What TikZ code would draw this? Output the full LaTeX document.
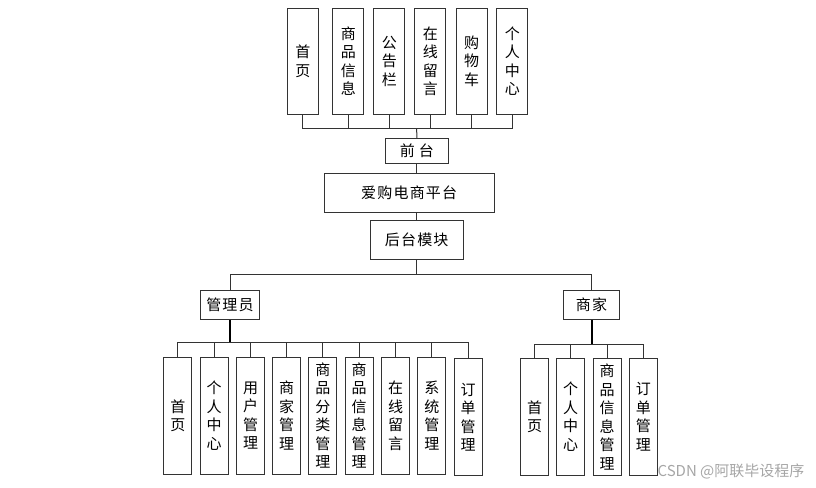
\documentclass[tikz,border=0pt]{standalone}
\usepackage{fontspec}
\newfontfamily\cjk{Noto Sans CJK SC}
\newfontfamily\cjkls{Noto Sans CJK SC}[LetterSpace=8]
\begin{document}
\begin{tikzpicture}[x=1pt,y=-1pt,
  box/.style={draw=black!80, line width=1pt, fill=white, inner sep=0pt, align=center,
    font=\cjk\fontsize{15}{18.5}\selectfont},
  hbox/.style={box, font=\cjkls\fontsize{15}{18.5}\selectfont},
  vbox/.style={box, minimum width=31pt, minimum height=105.7pt},
  lbox/.style={box, minimum width=28pt, minimum height=117pt},
  conn/.style={draw=black!80, line width=1pt},
  thickconn/.style={draw=black, line width=2pt}]
\useasboundingbox (0,0) rectangle (816,487);
% top row
\node[vbox] (t1) at (302.8,61.2) {首\\页};
\node[vbox] (t2) at (348.3,61.2) {商\\品\\信\\息};
\node[vbox] (t3) at (389.3,61.2) {公\\告\\栏};
\node[vbox] (t4) at (430.3,61.2) {在\\线\\留\\言};
\node[vbox] (t5) at (471.6,61.2) {购\\物\\车};
\node[vbox] (t6) at (512.3,61.2) {个\\人\\中\\心};
\node[hbox, minimum width=63pt, minimum height=25pt] (qt) at (416.8,150.8) {前\hspace{4pt}台};
\node[hbox, minimum width=169.7pt, minimum height=39pt] (pt) at (409.2,192.8) {爱购电商平台};
\node[hbox, minimum width=93.3pt, minimum height=38.6pt] (ht) at (416.7,240) {后台模块};
\node[hbox, minimum width=58.6pt, minimum height=28.6pt] (gly) at (230,305) {管理员};
\node[hbox, minimum width=56.4pt, minimum height=29pt] (sj) at (591.5,305.2) {商家};
% admin children
\node[lbox] (a1) at (177.9,415.7) {首\\页};
\node[lbox] (a2) at (214,415.7) {个\\人\\中\\心};
\node[lbox] (a3) at (250.5,415.7) {用\\户\\管\\理};
\node[lbox] (a4) at (286.7,415.7) {商\\家\\管\\理};
\node[lbox] (a5) at (322.9,415.7) {商\\品\\分\\类\\管\\理};
\node[lbox] (a6) at (359.2,415.7) {商\\品\\信\\息\\管\\理};
\node[lbox] (a7) at (395.5,415.7) {在\\线\\留\\言};
\node[lbox] (a8) at (431.9,415.7) {系\\统\\管\\理};
\node[lbox] (a9) at (468,417.2) {订\\单\\管\\理};
% merchant children
\node[lbox] (m1) at (534.7,416.8) {首\\页};
\node[lbox] (m2) at (570.7,416.8) {个\\人\\中\\心};
\node[lbox] (m3) at (607,416.8) {商\\品\\信\\息\\管\\理};
\node[lbox] (m4) at (643.3,416.8) {订\\单\\管\\理};
% buses
\coordinate (bus1) at (416.7,128.3);
\coordinate (bus2) at (416.7,274);
\coordinate (bus3) at (230,342.3);
\coordinate (bus4) at (591.5,344);
\foreach \n in {t1,t2,t3,t4,t5,t6} \draw[conn] (\n.south) |- (bus1);
\draw[conn] (bus1) -- (qt.north);
\draw[conn] (qt.south) -- (qt.south |- pt.north);
\draw[conn] (pt.south -| ht.north) -- (ht.north);
\draw[conn] (ht.south) -- (bus2);
\draw[conn] (bus2) -| (gly.north);
\draw[conn] (bus2) -| (sj.north);
\draw[thickconn] (gly.south) -- (bus3);
\draw[thickconn] (sj.south) -- (bus4);
\foreach \n in {a1,a2,a3,a4,a5,a6,a7,a8,a9} \draw[conn] (bus3) -| (\n.north);
\foreach \n in {m1,m2,m3,m4} \draw[conn] (bus4) -| (\n.north);
% watermark
\node[text=black!35, font=\cjk\fontsize{15}{16}\selectfont, inner sep=0pt] (wm) at (731,471.7) {CSDN @阿联毕设程序};
\end{tikzpicture}
\end{document}
